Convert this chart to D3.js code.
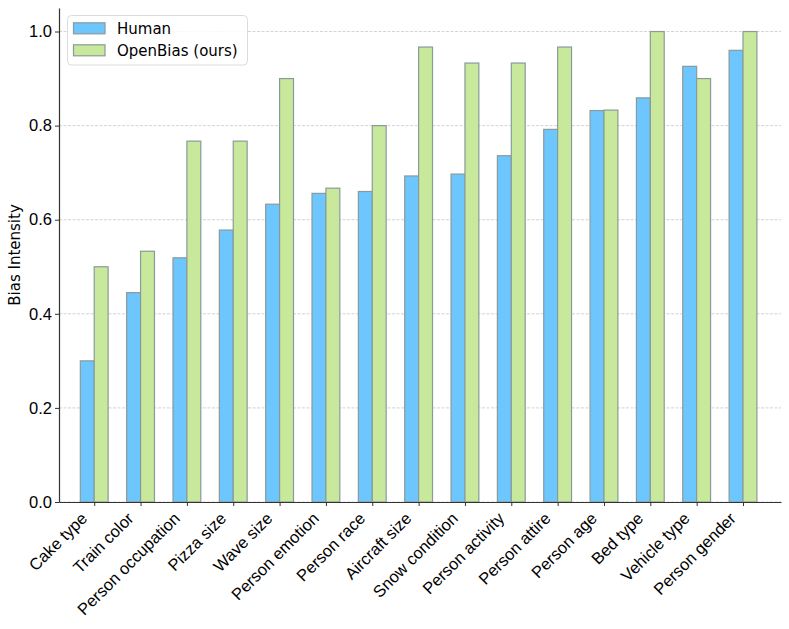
<!DOCTYPE html>
<html>
<head>
<meta charset="utf-8">
<script src="https://cdn.jsdelivr.net/npm/d3@7"></script>
<style>
  body { margin: 0; background: #fff; }
  svg { font-family: "DejaVu Sans", sans-serif; }
</style>
</head>
<body>
<div id="chart"></div>
<script>
const categories = ["Cake type", "Train color", "Person occupation", "Pizza size", "Wave size",
    "Person emotion", "Person race", "Aircraft size", "Snow condition", "Person activity",
    "Person attire", "Person age", "Bed type", "Vehicle type", "Person gender"];
const humanValues = [0.300, 0.445, 0.519, 0.578, 0.633, 0.656, 0.660, 0.693, 0.697, 0.736,
    0.792, 0.832, 0.859, 0.926, 0.960];
const openBiasValues = [0.500, 0.533, 0.767, 0.767, 0.900, 0.667, 0.800, 0.967, 0.933, 0.933,
    0.967, 0.833, 1.000, 0.900, 1.000];
const seriesNames = ["Human", "OpenBias (ours)"];
const yTicks = [0.0, 0.2, 0.4, 0.6, 0.8, 1.0];

const width = 789;
const height = 629;
const margin = { left: 59, right: 8, top: 8, bottom: 127 };
const barWidth = 0.3;
const colors = ["#6dc6fd", "#c8e89b"];

const svg = d3.select("#chart")
    .append("svg")
    .attr("width", width)
    .attr("height", height);

// Escalas
const x = d3.scaleLinear()
    .domain([-0.76, 14.82])
    .range([margin.left, width - margin.right]);

const y = d3.scaleLinear()
    .domain([0, 1.05])
    .range([height - margin.bottom, margin.top]);

// Rejilla horizontal
svg.append("g")
    .selectAll("line")
    .data(yTicks)
    .enter()
    .append("line")
    .attr("x1", x.range()[0])
    .attr("x2", x.range()[1])
    .attr("y1", d => y(d))
    .attr("y2", d => y(d))
    .attr("stroke", "#c8c8c8")
    .attr("stroke-width", 0.8)
    .attr("stroke-dasharray", "3,1.5");

// Barras
const series = [humanValues, openBiasValues];
series.forEach((values, s) => {
    svg.append("g")
        .selectAll("rect")
        .data(values)
        .enter()
        .append("rect")
        .attr("x", (d, i) => x(i + (s === 0 ? -barWidth : 0)))
        .attr("y", d => y(d))
        .attr("width", x(barWidth) - x(0))
        .attr("height", d => y(0) - y(d))
        .attr("fill", colors[s])
        .attr("stroke", "#8a9a9c")
        .attr("stroke-width", 1.2);
});

// Eje X
const xAxis = svg.append("g")
    .attr("transform", `translate(0,${y(0)})`)
    .call(d3.axisBottom(x)
        .tickValues(d3.range(categories.length))
        .tickFormat(i => categories[i])
        .tickSize(4)
        .tickSizeOuter(0));

xAxis.selectAll("text")
    .attr("font-size", "16.5px")
    .attr("fill", "#000")
    .attr("text-anchor", "end")
    .attr("x", 0)
    .attr("y", 0)
    .attr("dy", null)
    .attr("transform", "translate(-6.5,17.5) rotate(-45)");

// Eje Y
const yAxis = svg.append("g")
    .attr("transform", `translate(${x.range()[0]},0)`)
    .call(d3.axisLeft(y)
        .tickValues(yTicks)
        .tickFormat(d3.format(".1f"))
        .tickSize(4)
        .tickSizeOuter(0));

yAxis.selectAll("text")
    .attr("font-size", "16.5px")
    .attr("fill", "#000");

[xAxis, yAxis].forEach(a => {
    a.selectAll("line").attr("stroke", "#333");
    a.select(".domain").attr("stroke", "#333").attr("stroke-width", 1.2);
});

// Etiqueta del eje Y
svg.append("text")
    .attr("transform", `translate(19.5,${(y(0) + y(1.05)) / 2}) rotate(-90)`)
    .attr("text-anchor", "middle")
    .attr("font-size", "15px")
    .attr("fill", "#000")
    .text("Bias Intensity");

// Leyenda
const legend = svg.append("g");
legend.append("rect")
    .attr("x", 67.5)
    .attr("y", 15.5)
    .attr("width", 180)
    .attr("height", 49.5)
    .attr("rx", 4)
    .attr("fill", "#fff")
    .attr("fill-opacity", 0.85)
    .attr("stroke", "#dcdcdc");

seriesNames.forEach((name, i) => {
    legend.append("rect")
        .attr("x", 73.5)
        .attr("y", 22.8 + i * 22)
        .attr("width", 31.5)
        .attr("height", 11)
        .attr("fill", colors[i])
        .attr("stroke", "#8a9a9c")
        .attr("stroke-width", 1.2);
    legend.append("text")
        .attr("x", 117)
        .attr("y", 28.5 + i * 22)
        .attr("dy", "0.35em")
        .attr("font-size", "15px")
        .attr("fill", "#000")
        .text(name);
});
</script>
</body>
</html>
